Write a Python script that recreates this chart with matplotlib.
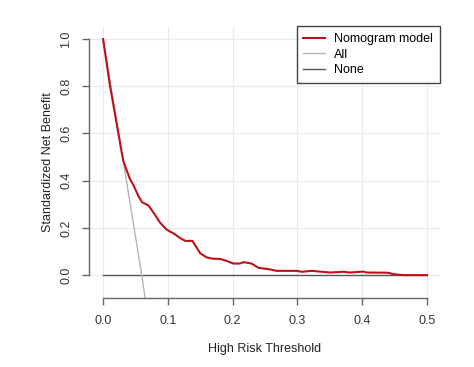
import numpy as np
import matplotlib.pyplot as plt

plt.rcParams['font.family'] = ['Liberation Sans', 'DejaVu Sans']

# curva del modelo
thr_model = [0.0, 0.0108, 0.0236, 0.031, 0.0366, 0.041, 0.047,
             0.0545, 0.060, 0.070, 0.079, 0.088, 0.098, 0.109, 0.120, 0.127, 0.138,
             0.150, 0.160, 0.170, 0.180, 0.191, 0.201, 0.211, 0.217, 0.229, 0.240,
             0.258, 0.268, 0.299, 0.307, 0.322, 0.350, 0.371, 0.381, 0.402, 0.407,
             0.440, 0.448, 0.463, 0.500]
nb_model = [1.0, 0.80, 0.60, 0.485, 0.443, 0.41, 0.38,
            0.335, 0.309, 0.295, 0.26, 0.222, 0.193, 0.176, 0.155, 0.145, 0.145,
            0.092, 0.075, 0.069, 0.069, 0.060, 0.049, 0.049, 0.055, 0.049, 0.031,
            0.024, 0.018, 0.018, 0.014, 0.018, 0.011, 0.014, 0.011, 0.015, 0.011,
            0.010, 0.004, 0.0, 0.0]

# tratar a todos
thr_all = [0.0, 0.031, 0.0597, 0.0648]
nb_all = [1.0, 0.485, 0.0, -0.097]

# no tratar a nadie
thr_none = [0.0, 0.5]
nb_none = [0.0, 0.0]

xticks = [0.0, 0.1, 0.2, 0.3, 0.4, 0.5]
yticks = [0.0, 0.2, 0.4, 0.6, 0.8, 1.0]

fig = plt.figure(figsize=(4.74, 3.67), dpi=100)
ax = fig.add_axes([0.188, 0.188, 0.74, 0.741])

ax.grid(True, color='#ebebeb', lw=0.8)
ax.set_axisbelow(True)

ax.plot(thr_none, nb_none, color='#555555', lw=1.0, label='None')
ax.plot(thr_all, nb_all, color='#b5b5b5', lw=1.0, label='All')
ax.plot(thr_model, nb_model, color='#c0111b', lw=1.5, label='Nomogram model')

ax.set_xlim(-0.0216, 0.52)
ax.set_ylim(-0.097, 1.055)
ax.set_xticks(xticks)
ax.set_yticks(yticks)
ax.set_xticklabels([f'{v:.1f}' for v in xticks])
ax.set_yticklabels([f'{v:.1f}' for v in yticks], rotation=90, va='center')

for s in ['top', 'right']:
    ax.spines[s].set_visible(False)
ax.spines['bottom'].set_bounds(0, 0.5)
ax.spines['left'].set_bounds(0, 1.0)
for s in ['bottom', 'left']:
    ax.spines[s].set_color('#666666')
    ax.spines[s].set_linewidth(1.0)
ax.tick_params(colors='#666666', labelcolor='#333333', labelsize=9, length=5, width=1.0)
ax.tick_params(axis='x', pad=7)
ax.tick_params(axis='y', pad=7)

ax.set_xlabel('High Risk Threshold', fontsize=9, color='#222222', labelpad=12)
ax.set_ylabel('Standardized Net Benefit', fontsize=9, color='#222222', labelpad=5)

h, l = ax.get_legend_handles_labels()
leg = ax.legend(h[::-1], l[::-1], loc='upper right', bbox_to_anchor=(1.0, 1.0),
                borderaxespad=0, fancybox=False, framealpha=1, fontsize=9,
                handlelength=1.75, handletextpad=0.7, labelspacing=0.3,
                borderpad=0.55)
leg.get_frame().set_edgecolor('#444444')
leg.get_frame().set_linewidth(1.0)

plt.savefig('out.png', dpi=100)
